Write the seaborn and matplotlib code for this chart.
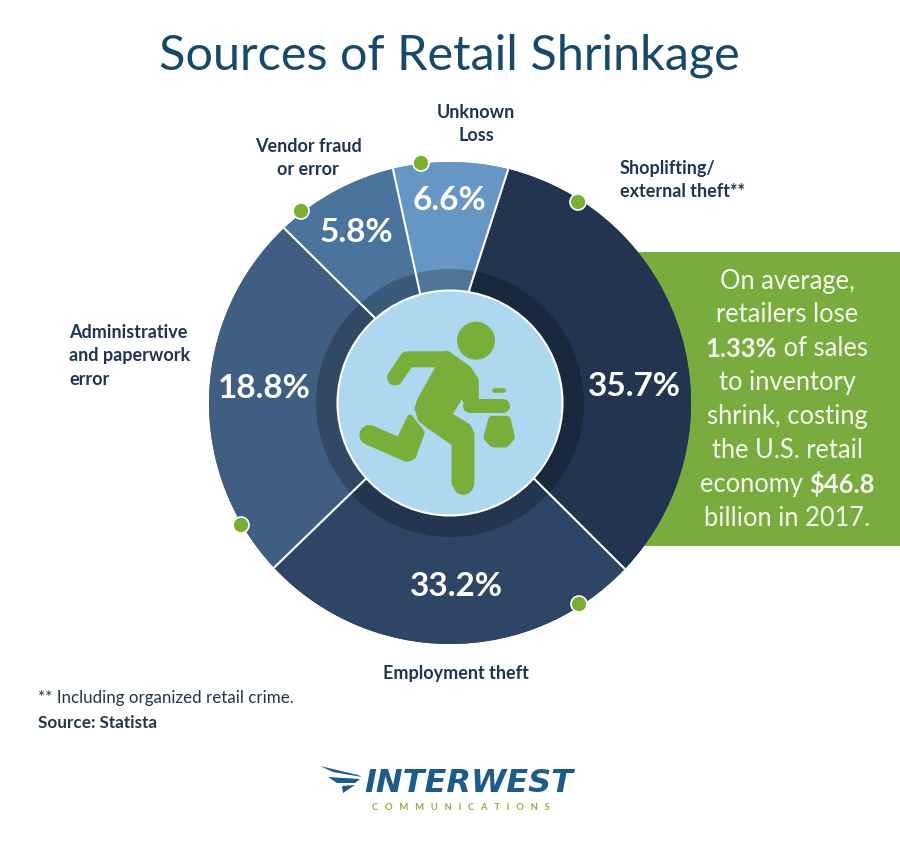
import matplotlib
matplotlib.use("Agg")
import matplotlib.pyplot as plt
from matplotlib.patches import Circle, Polygon, Rectangle
import numpy as np
import seaborn as sns

sns.set_theme(style="white")
plt.rcParams['font.family'] = ['Lato', 'DejaVu Sans']

categories = ["Shoplifting/\nexternal theft**", "Employment theft",
              "Administrative\nand paperwork\nerror", "Vendor fraud\nor error", "Unknown\nLoss"]
values = ["35.7%", "33.2%", "18.8%", "5.8%", "6.6%"]
# The slices in the reference are not proportional to the printed values and their
# dividers are not quite radial: clockwise-from-top angles read off at rim and at hub.
rim_angles = [14, 133.5, 226.9, 316.5, 346.3]
hub_angles = [9.5, 132, 228, 318.6, 344.7]
colors = ["#22344f", "#2e4566", "#3f5e82", "#4a749c", "#6696c4"]

NAVY = "#1f3553"; GREEN = "#7aab3e"; TITLE = "#17496b"
fig = plt.figure(figsize=(9, 8.43), dpi=100)
ax = fig.add_axes([0, 0, 1, 1])
P = lambda x, y: (x, 843 - y)
CX, CY = P(450, 403)
R, RING, HUB = 241, 134, 112.5

def polar(r, deg):
    a = np.radians(deg)
    return np.array([CX + r * np.sin(a), CY + r * np.cos(a)])

ax.add_patch(Rectangle(P(600, 546), 300, 294, fc=GREEN, ec="none", zorder=0))
spans = np.diff(rim_angles + [rim_angles[0] + 360])
ax.pie(spans, colors=colors, center=(CX, CY), radius=R, startangle=90 - rim_angles[0], counterclock=False,
       wedgeprops=dict(linewidth=0, zorder=1))
for i, c in enumerate(colors):
    a0, a1 = rim_angles[i], rim_angles[(i + 1) % 5]
    b0, b1 = hub_angles[i], hub_angles[(i + 1) % 5]
    if a1 < a0: a1 += 360
    if b1 < b0: b1 += 360
    arc = [polar(R, t) for t in np.linspace(a0, a1, 60)]
    ax.add_patch(Polygon(arc + [polar(HUB - 3, b1), polar(HUB - 3, b0)], fc=c, ec="none", zorder=1.5))
ax.add_patch(Circle((CX, CY), RING, fc="black", alpha=0.22, ec="none", zorder=2))
for a, b in zip(rim_angles, hub_angles):
    p, q = polar(R, a), polar(HUB, b)
    ax.plot([p[0], q[0]], [p[1], q[1]], color="white", lw=1.5, zorder=3, solid_capstyle="butt")
ax.add_patch(Circle((CX, CY), HUB, fc="#aed8f0", ec="white", lw=1.5, zorder=4))
ax.set_xlim(0, 900); ax.set_ylim(0, 843); ax.set_aspect("equal"); ax.axis("off")

# runner icon (decoration)
Z = lambda x, y: (330 + x / 3, 843 - (280 + y / 3))
IC = "#7aae3a"
def poly(pts, lw=2):
    ax.add_patch(Polygon([Z(*p) for p in pts], closed=True, fc=IC, ec=IC, lw=lw, joinstyle="round", zorder=5))
def line(pts, w):
    xs, ys = zip(*[Z(*p) for p in pts])
    ax.plot(xs, ys, color=IC, lw=w * 0.24, solid_capstyle="round", solid_joinstyle="round", zorder=5)
x0, y0 = Z(438, 182)
ax.add_patch(Circle((x0, y0), 19, fc=IC, ec="none", zorder=5))
line([(195, 293), (232, 238), (350, 238)], 48)
poly([(350, 220), (415, 265), (438, 300), (438, 360), (405, 360), (396, 340), (358, 405), (415, 440), (425, 462),
      (425, 612), (373, 612), (373, 490), (300, 440), (272, 418), (262, 385), (270, 360), (325, 262)], lw=4)
line([(398, 612), (398, 480)], 62)
line([(420, 378), (520, 378)], 42)
line([(118, 465), (232, 515)], 60)
poly([(240, 412), (276, 458), (250, 528), (225, 520), (212, 470)], lw=4)
line([(492, 330), (518, 330)], 14)
poly([(487, 420), (530, 420), (542, 472), (525, 490), (490, 490), (473, 472)], lw=6)

# dots
dot_x = [578, 579, 241, 301, 421]
dot_y = [202, 604, 525, 211, 163]
for dx, dy in zip(dot_x, dot_y):
    ax.add_patch(Circle(P(dx, dy), 8, fc="#7ab032", ec="white", lw=1.2, zorder=6))

def T(x, y, s, size, weight="normal", color=NAVY, ha="center", **kw):
    return ax.text(*P(x, y), s, fontsize=size, fontweight=weight, color=color, ha=ha, va="center", zorder=7, **kw)

T(449, 56, "Sources of Retail Shrinkage", 35, color=TITLE)

val_x = [634, 456, 264, 356, 449]
val_y = [386, 586, 388, 233, 200]
for x, y, s in zip(val_x, val_y, values):
    T(x, y, s, 24, "bold", "white")

label_x = [620, 456, 69, 308, 476]
label_y = [180, 673, 356, 158, 124]
label_ha = ["left", "center", "left", "center", "center"]
for x, y, s, ha in zip(label_x, label_y, categories, label_ha):
    T(x, y, s, 13, "bold", NAVY, ha=ha, linespacing=1.43, multialignment=ha)

T(38, 698, "** Including organized retail crime.", 12.2, ha="left", color="#24344d")
T(38, 723, "Source: Statista", 12.3, "bold", ha="left", color="#24344d")

# call-out with mixed weights
callout = [[("On average,", "normal")], [("retailers lose", "normal")],
           [("1.33%", "bold"), (" of sales", "normal")], [("to inventory", "normal")],
           [("shrink, costing", "normal")], [("the U.S. retail", "normal")],
           [("economy ", "normal"), ("$46.8", "bold")], [("billion in 2017.", "normal")]]
fig.canvas.draw()
r = fig.canvas.get_renderer()
for i, runs in enumerate(callout):
    y = 281 + i * 33.9
    ts = [T(0, y, s.replace(" ", "\u00a0"), 18.4, w, "#f4f8ec", ha="left") for s, w in runs]
    ws = [t.get_window_extent(r).width for t in ts]
    x = 787 - sum(ws) / 2
    for t, w in zip(ts, ws):
        t.set_x(x); x += w

# logo
BLUE = "#1d5c8a"
T(469, 783, "INTERWEST", 23, "bold", BLUE, style="oblique", family=["DejaVu Sans"])
T(461, 807, "C   O   M   M   U   N   I   C   A   T   I   O   N   S", 6.8, "bold", "#8fb03c")
for pts in [[(320, 766), (358, 775), (362, 777), (333, 772)],
            [(328, 777), (360, 779), (355, 783), (337, 783)],
            [(342, 786), (355, 785), (343, 793)]]:
    ax.add_patch(Polygon([P(*p) for p in pts], fc=BLUE, ec="none", zorder=7))

fig.savefig("out.png", dpi=100, facecolor="white")
